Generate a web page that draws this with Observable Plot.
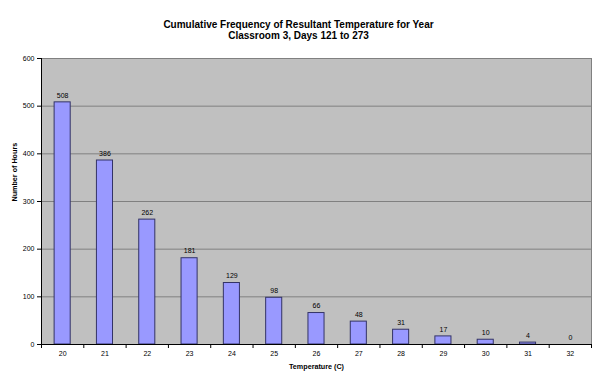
<!DOCTYPE html>
<html>
<head>
<meta charset="utf-8">
<script src="https://cdn.jsdelivr.net/npm/d3@7"></script>
<script src="https://cdn.jsdelivr.net/npm/@observablehq/plot@0.6"></script>
<style>
  html, body { margin: 0; padding: 0; background: white; }
</style>
</head>
<body>
<div id="chart"></div>
<script>
const titleLines = ["Cumulative Frequency of Resultant Temperature for Year", "Classroom 3, Days 121 to 273"];
const xTitle = "Temperature (C)";
const yTitle = "Number of Hours";
const temps = [20, 21, 22, 23, 24, 25, 26, 27, 28, 29, 30, 31, 32];
const hours = [508, 386, 262, 181, 129, 98, 66, 48, 31, 17, 10, 4, 0];
const yTicks = [0, 100, 200, 300, 400, 500, 600];

const data = temps.map((t, i) => ({t, h: hours[i]}));
const half = 0.5;
const barHalf = 0.19;
const boundaries = [temps[0] - half, ...temps.map(t => t + half)];

const font = "'Liberation Sans', Arial, sans-serif";

const chart = Plot.plot({
  width: 596,
  height: 383,
  marginLeft: 41,
  marginRight: 5,
  marginTop: 58,
  marginBottom: 39,
  style: {fontFamily: font, fontSize: "7px", background: "white", color: "black", overflow: "visible"},
  x: {domain: [temps[0] - half, temps[temps.length - 1] + half]},
  y: {domain: [0, 600]},
  marks: [
    Plot.frame({fill: "#C0C0C0", stroke: "#808080"}),
    Plot.gridY({ticks: yTicks, stroke: "#808080", strokeOpacity: 1, strokeWidth: 1}),
    Plot.rectY(data, {x1: d => d.t - barHalf, x2: d => d.t + barHalf, y: "h", fill: "#9999FF", stroke: "#333366", strokeWidth: 1}),
    Plot.text(data, {x: "t", y: "h", text: d => String(d.h), dy: -7, fill: "black", fontSize: 7}),
    Plot.ruleY([0], {stroke: "black"}),
    Plot.ruleX([temps[0] - half], {stroke: "black"}),
    Plot.axisY({ticks: yTicks, tickSize: 4, tickPadding: 3, label: null, fontSize: 7}),
    Plot.axisX({ticks: boundaries, tickSize: 4, tickFormat: () => "", label: null}),
    Plot.axisX({ticks: temps, tickSize: 0, tickPadding: 7, label: null, fontSize: 7}),
    Plot.text([titleLines[0]], {frameAnchor: "top", dx: -18, dy: -37.5, fontWeight: "bold", fontSize: 10, fill: "black"}),
    Plot.text([titleLines[1]], {frameAnchor: "top", dx: -18, dy: -26.5, fontWeight: "bold", fontSize: 10, fill: "black"}),
    Plot.text([xTitle], {frameAnchor: "bottom", dy: 24, fontWeight: "bold", fontSize: 7.2, fill: "black"}),
    Plot.text([yTitle], {frameAnchor: "left", dx: -27, rotate: -90, fontWeight: "bold", fontSize: 7.2, fill: "black"})
  ]
});
document.getElementById("chart").append(chart);
</script>
</body>
</html>
